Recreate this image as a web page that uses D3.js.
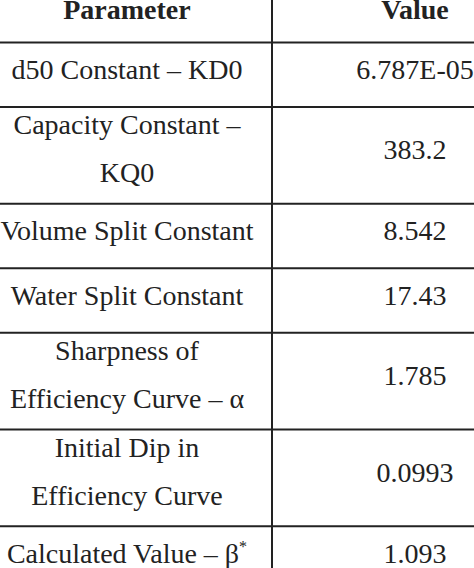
<!DOCTYPE html>
<html>
<head>
<meta charset="utf-8">
<script src="https://cdn.jsdelivr.net/npm/d3@7"></script>
<style>
  body { margin: 0; background: #fff; }
  text { font-family: "Liberation Serif", "Times New Roman", Times, serif; fill: #222; }
</style>
</head>
<body>
<div id="vis"></div>
<script>
const width = 474, height = 568;

// table contents
const headers = ['Parameter', 'Value'];
const parameters = [
  ['d50 Constant \u2013 KD0'],
  ['Capacity Constant \u2013', 'KQ0'],
  ['Volume Split Constant'],
  ['Water Split Constant'],
  ['Sharpness of', 'Efficiency Curve \u2013 \u03b1'],
  ['Initial Dip in', 'Efficiency Curve'],
  ['Calculated Value \u2013 \u03b2*']
];
const values = ['6.787E-05', '383.2', '8.542', '17.43', '1.785', '0.0993', '1.093'];

// row height in "units": one line = 1, two lines = 1.5
const units = [1].concat(parameters.map(p => p.length > 1 ? 1.5 : 1));
const bounds = [0];
units.forEach(u => bounds.push(bounds[bounds.length - 1] + u));

const y = d3.scaleLinear().domain([0, bounds[bounds.length - 1]]).range([-22, -22 + 64.5 * bounds[bounds.length - 1]]);
const colX = [127, 415];
const divider = 272;
const fs = 28;

const svg = d3.select('#vis').append('svg')
  .attr('width', width).attr('height', height);

// grid lines
svg.selectAll('.hline').data(bounds.slice(1, -1)).enter().append('line')
  .attr('x1', 0).attr('x2', width)
  .attr('y1', d => y(d)).attr('y2', d => y(d))
  .attr('stroke', '#222').attr('stroke-width', 2);

svg.append('line')
  .attr('x1', divider).attr('x2', divider)
  .attr('y1', 0).attr('y2', height)
  .attr('stroke', '#222').attr('stroke-width', 2);

// header
svg.selectAll('.hdr').data(headers).enter().append('text')
  .attr('x', (d, i) => colX[i]).attr('y', 19)
  .attr('text-anchor', 'middle')
  .attr('font-size', fs).attr('font-weight', 'bold')
  .text(d => d);

// body rows
parameters.forEach((lines, i) => {
  const c = (y(bounds[i + 1]) + y(bounds[i + 2])) / 2;
  lines.forEach((ln, j) => {
    const base = lines.length > 1 ? c - 21 + j * 48 : c + 4;
    const t = svg.append('text')
      .attr('x', colX[0]).attr('y', base)
      .attr('text-anchor', 'middle').attr('font-size', fs);
    if (ln.endsWith('*')) {
      t.append('tspan').text(ln.slice(0, -1));
      t.append('tspan').attr('dy', -11).attr('font-size', 16).text('*');
    } else {
      t.text(ln);
    }
  });
  svg.append('text')
    .attr('x', colX[1]).attr('y', c + 4)
    .attr('text-anchor', 'middle').attr('font-size', fs)
    .text(values[i]);
});
</script>
</body>
</html>
